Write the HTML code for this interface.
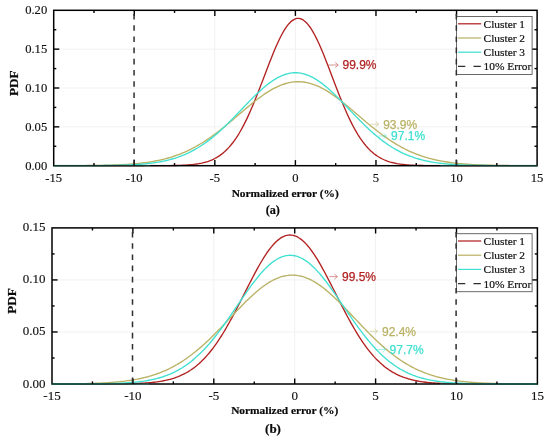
<!DOCTYPE html>
<html><head><meta charset="utf-8"><title>PDF of normalized error</title>
<style>
html,body{margin:0;padding:0;background:#fff;}
svg{display:block;}
.tk{font-family:"Liberation Serif",serif;fill:#111;stroke:#111;stroke-width:0.15px;}
.lg{font-family:"Liberation Serif",serif;font-size:11.4px;fill:#111;stroke:#111;stroke-width:0.2px;}
.lb{font-family:"Liberation Serif",serif;font-size:11.4px;font-weight:bold;fill:#0a0a0a;stroke:#0a0a0a;stroke-width:0.2px;}
.pdf{font-family:"Liberation Serif",serif;font-size:13.2px;font-weight:bold;fill:#0a0a0a;stroke:#0a0a0a;stroke-width:0.2px;}
.an{font-family:"Liberation Sans",sans-serif;font-size:12px;}
</style></head><body>
<svg width="550" height="440" viewBox="0 0 550 440">
<rect width="550" height="440" fill="#fff"/>
<line x1="214.83" y1="10.3" x2="214.83" y2="165.7" stroke="#f1f1f1" stroke-width="1"/>
<line x1="295.40" y1="10.3" x2="295.40" y2="165.7" stroke="#f1f1f1" stroke-width="1"/>
<line x1="375.97" y1="10.3" x2="375.97" y2="165.7" stroke="#f1f1f1" stroke-width="1"/>
<line x1="53.7" y1="126.85" x2="537.1" y2="126.85" stroke="#f1f1f1" stroke-width="1"/>
<line x1="53.7" y1="88.00" x2="537.1" y2="88.00" stroke="#f1f1f1" stroke-width="1"/>
<line x1="53.7" y1="49.15" x2="537.1" y2="49.15" stroke="#f1f1f1" stroke-width="1"/>
<polyline points="53.70,165.70 55.31,165.70 56.92,165.70 58.53,165.70 60.15,165.70 61.76,165.70 63.37,165.70 64.98,165.70 66.59,165.70 68.20,165.70 69.81,165.70 71.42,165.70 73.04,165.70 74.65,165.70 76.26,165.70 77.87,165.70 79.48,165.70 81.09,165.70 82.70,165.70 84.32,165.70 85.93,165.70 87.54,165.70 89.15,165.70 90.76,165.70 92.37,165.70 93.98,165.70 95.59,165.70 97.21,165.70 98.82,165.70 100.43,165.70 102.04,165.70 103.65,165.70 105.26,165.70 106.87,165.70 108.49,165.70 110.10,165.70 111.71,165.70 113.32,165.70 114.93,165.70 116.54,165.70 118.15,165.70 119.76,165.70 121.38,165.70 122.99,165.70 124.60,165.70 126.21,165.70 127.82,165.70 129.43,165.70 131.04,165.70 132.66,165.70 134.27,165.70 135.88,165.70 137.49,165.70 139.10,165.70 140.71,165.70 142.32,165.70 143.93,165.70 145.55,165.69 147.16,165.69 148.77,165.69 150.38,165.69 151.99,165.69 153.60,165.68 155.21,165.68 156.83,165.68 158.44,165.67 160.05,165.66 161.66,165.66 163.27,165.65 164.88,165.63 166.49,165.62 168.10,165.61 169.72,165.59 171.33,165.57 172.94,165.54 174.55,165.51 176.16,165.47 177.77,165.43 179.38,165.38 181.00,165.32 182.61,165.26 184.22,165.18 185.83,165.09 187.44,164.99 189.05,164.87 190.66,164.73 192.27,164.58 193.89,164.40 195.50,164.19 197.11,163.96 198.72,163.70 200.33,163.40 201.94,163.07 203.55,162.69 205.17,162.27 206.78,161.80 208.39,161.27 210.00,160.68 211.61,160.03 213.22,159.30 214.83,158.50 216.44,157.62 218.06,156.65 219.67,155.59 221.28,154.42 222.89,153.15 224.50,151.77 226.11,150.28 227.72,148.66 229.34,146.91 230.95,145.03 232.56,143.02 234.17,140.86 235.78,138.56 237.39,136.11 239.00,133.52 240.61,130.78 242.23,127.89 243.84,124.85 245.45,121.67 247.06,118.35 248.67,114.89 250.28,111.30 251.89,107.59 253.51,103.77 255.12,99.84 256.73,95.83 258.34,91.74 259.95,87.58 261.56,83.38 263.17,79.14 264.78,74.90 266.40,70.66 268.01,66.44 269.62,62.28 271.23,58.18 272.84,54.17 274.45,50.28 276.06,46.52 277.68,42.91 279.29,39.48 280.90,36.24 282.51,33.23 284.12,30.44 285.73,27.91 287.34,25.66 288.95,23.68 290.57,22.00 292.18,20.63 293.79,19.58 295.40,18.85 297.01,18.45 298.62,18.39 300.23,18.65 301.85,19.25 303.46,20.17 305.07,21.42 306.68,22.97 308.29,24.83 309.90,26.98 311.51,29.40 313.12,32.08 314.74,35.01 316.35,38.16 317.96,41.51 319.57,45.05 321.18,48.76 322.79,52.60 324.40,56.57 326.02,60.63 327.63,64.77 329.24,68.97 330.85,73.20 332.46,77.45 334.07,81.69 335.68,85.90 337.29,90.08 338.91,94.20 340.52,98.25 342.13,102.21 343.74,106.08 345.35,109.83 346.96,113.47 348.57,116.98 350.19,120.36 351.80,123.59 353.41,126.69 355.02,129.64 356.63,132.44 358.24,135.09 359.85,137.60 361.46,139.96 363.08,142.17 364.69,144.24 366.30,146.18 367.91,147.97 369.52,149.64 371.13,151.19 372.74,152.62 374.36,153.93 375.97,155.13 377.58,156.24 379.19,157.24 380.80,158.16 382.41,158.99 384.02,159.75 385.63,160.43 387.25,161.04 388.86,161.59 390.47,162.09 392.08,162.53 393.69,162.92 395.30,163.28 396.91,163.59 398.53,163.86 400.14,164.10 401.75,164.32 403.36,164.51 404.97,164.67 406.58,164.82 408.19,164.94 409.80,165.05 411.42,165.15 413.03,165.23 414.64,165.30 416.25,165.36 417.86,165.41 419.47,165.46 421.08,165.49 422.70,165.53 424.31,165.56 425.92,165.58 427.53,165.60 429.14,165.62 430.75,165.63 432.36,165.64 433.97,165.65 435.59,165.66 437.20,165.67 438.81,165.67 440.42,165.68 442.03,165.68 443.64,165.69 445.25,165.69 446.87,165.69 448.48,165.69 450.09,165.69 451.70,165.69 453.31,165.70 454.92,165.70 456.53,165.70 458.14,165.70 459.76,165.70 461.37,165.70 462.98,165.70 464.59,165.70 466.20,165.70 467.81,165.70 469.42,165.70 471.04,165.70 472.65,165.70 474.26,165.70 475.87,165.70 477.48,165.70 479.09,165.70 480.70,165.70 482.31,165.70 483.93,165.70 485.54,165.70 487.15,165.70 488.76,165.70 490.37,165.70 491.98,165.70 493.59,165.70 495.21,165.70 496.82,165.70 498.43,165.70 500.04,165.70 501.65,165.70 503.26,165.70 504.87,165.70 506.48,165.70 508.10,165.70 509.71,165.70 511.32,165.70 512.93,165.70 514.54,165.70 516.15,165.70 517.76,165.70 519.38,165.70 520.99,165.70 522.60,165.70 524.21,165.70 525.82,165.70 527.43,165.70 529.04,165.70 530.65,165.70 532.27,165.70 533.88,165.70 535.49,165.70 537.10,165.70" fill="none" stroke="#b22222" stroke-width="1.35" stroke-linejoin="round"/>
<polyline points="53.70,165.68 55.31,165.68 56.92,165.68 58.53,165.67 60.15,165.67 61.76,165.67 63.37,165.67 64.98,165.66 66.59,165.66 68.20,165.65 69.81,165.65 71.42,165.64 73.04,165.64 74.65,165.63 76.26,165.62 77.87,165.61 79.48,165.60 81.09,165.59 82.70,165.58 84.32,165.57 85.93,165.56 87.54,165.54 89.15,165.53 90.76,165.51 92.37,165.49 93.98,165.47 95.59,165.45 97.21,165.42 98.82,165.40 100.43,165.37 102.04,165.34 103.65,165.30 105.26,165.26 106.87,165.22 108.49,165.18 110.10,165.13 111.71,165.08 113.32,165.03 114.93,164.97 116.54,164.91 118.15,164.84 119.76,164.77 121.38,164.69 122.99,164.60 124.60,164.51 126.21,164.42 127.82,164.31 129.43,164.20 131.04,164.08 132.66,163.95 134.27,163.82 135.88,163.67 137.49,163.52 139.10,163.35 140.71,163.18 142.32,162.99 143.93,162.79 145.55,162.58 147.16,162.36 148.77,162.12 150.38,161.87 151.99,161.60 153.60,161.32 155.21,161.03 156.83,160.71 158.44,160.38 160.05,160.04 161.66,159.67 163.27,159.29 164.88,158.88 166.49,158.46 168.10,158.01 169.72,157.55 171.33,157.06 172.94,156.55 174.55,156.01 176.16,155.46 177.77,154.88 179.38,154.27 181.00,153.64 182.61,152.98 184.22,152.30 185.83,151.59 187.44,150.85 189.05,150.09 190.66,149.30 192.27,148.48 193.89,147.64 195.50,146.77 197.11,145.87 198.72,144.94 200.33,143.99 201.94,143.01 203.55,142.00 205.17,140.96 206.78,139.90 208.39,138.81 210.00,137.70 211.61,136.56 213.22,135.40 214.83,134.22 216.44,133.01 218.06,131.79 219.67,130.54 221.28,129.27 222.89,127.99 224.50,126.68 226.11,125.37 227.72,124.04 229.34,122.69 230.95,121.34 232.56,119.98 234.17,118.61 235.78,117.23 237.39,115.85 239.00,114.47 240.61,113.09 242.23,111.71 243.84,110.34 245.45,108.97 247.06,107.62 248.67,106.27 250.28,104.94 251.89,103.62 253.51,102.32 255.12,101.04 256.73,99.79 258.34,98.56 259.95,97.35 261.56,96.18 263.17,95.03 264.78,93.93 266.40,92.85 268.01,91.82 269.62,90.82 271.23,89.87 272.84,88.96 274.45,88.10 276.06,87.29 277.68,86.53 279.29,85.81 280.90,85.15 282.51,84.55 284.12,84.00 285.73,83.50 287.34,83.07 288.95,82.69 290.57,82.37 292.18,82.12 293.79,81.92 295.40,81.78 297.01,81.71 298.62,81.70 300.23,81.75 301.85,81.86 303.46,82.03 305.07,82.26 306.68,82.56 308.29,82.91 309.90,83.32 311.51,83.79 313.12,84.32 314.74,84.90 316.35,85.54 317.96,86.23 319.57,86.98 321.18,87.77 322.79,88.61 324.40,89.50 326.02,90.44 327.63,91.42 329.24,92.43 330.85,93.49 332.46,94.59 334.07,95.72 335.68,96.88 337.29,98.07 338.91,99.29 340.52,100.54 342.13,101.81 343.74,103.10 345.35,104.41 346.96,105.74 348.57,107.08 350.19,108.43 351.80,109.79 353.41,111.16 355.02,112.54 356.63,113.92 358.24,115.30 359.85,116.68 361.46,118.06 363.08,119.43 364.69,120.80 366.30,122.15 367.91,123.50 369.52,124.84 371.13,126.16 372.74,127.47 374.36,128.76 375.97,130.03 377.58,131.29 379.19,132.53 380.80,133.74 382.41,134.93 384.02,136.10 385.63,137.25 387.25,138.37 388.86,139.47 390.47,140.54 392.08,141.59 393.69,142.61 395.30,143.60 396.91,144.56 398.53,145.50 400.14,146.41 401.75,147.29 403.36,148.15 404.97,148.98 406.58,149.78 408.19,150.55 409.80,151.30 411.42,152.02 413.03,152.71 414.64,153.38 416.25,154.02 417.86,154.64 419.47,155.23 421.08,155.79 422.70,156.34 424.31,156.86 425.92,157.35 427.53,157.83 429.14,158.28 430.75,158.72 432.36,159.13 433.97,159.52 435.59,159.89 437.20,160.25 438.81,160.58 440.42,160.90 442.03,161.21 443.64,161.49 445.25,161.77 446.87,162.02 448.48,162.26 450.09,162.49 451.70,162.71 453.31,162.91 454.92,163.10 456.53,163.28 458.14,163.45 459.76,163.61 461.37,163.76 462.98,163.90 464.59,164.03 466.20,164.15 467.81,164.27 469.42,164.37 471.04,164.47 472.65,164.57 474.26,164.66 475.87,164.74 477.48,164.81 479.09,164.88 480.70,164.95 482.31,165.01 483.93,165.06 485.54,165.11 487.15,165.16 488.76,165.21 490.37,165.25 491.98,165.29 493.59,165.32 495.21,165.35 496.82,165.38 498.43,165.41 500.04,165.44 501.65,165.46 503.26,165.48 504.87,165.50 506.48,165.52 508.10,165.54 509.71,165.55 511.32,165.56 512.93,165.58 514.54,165.59 516.15,165.60 517.76,165.61 519.38,165.62 520.99,165.63 522.60,165.63 524.21,165.64 525.82,165.65 527.43,165.65 529.04,165.66 530.65,165.66 532.27,165.66 533.88,165.67 535.49,165.67 537.10,165.67" fill="none" stroke="#bab265" stroke-width="1.35" stroke-linejoin="round"/>
<polyline points="53.70,165.70 55.31,165.70 56.92,165.70 58.53,165.69 60.15,165.69 61.76,165.69 63.37,165.69 64.98,165.69 66.59,165.69 68.20,165.69 69.81,165.69 71.42,165.68 73.04,165.68 74.65,165.68 76.26,165.68 77.87,165.67 79.48,165.67 81.09,165.67 82.70,165.66 84.32,165.66 85.93,165.65 87.54,165.65 89.15,165.64 90.76,165.63 92.37,165.63 93.98,165.62 95.59,165.61 97.21,165.60 98.82,165.58 100.43,165.57 102.04,165.56 103.65,165.54 105.26,165.52 106.87,165.50 108.49,165.48 110.10,165.46 111.71,165.43 113.32,165.40 114.93,165.37 116.54,165.33 118.15,165.30 119.76,165.25 121.38,165.21 122.99,165.16 124.60,165.10 126.21,165.05 127.82,164.98 129.43,164.91 131.04,164.84 132.66,164.75 134.27,164.66 135.88,164.57 137.49,164.46 139.10,164.35 140.71,164.22 142.32,164.09 143.93,163.95 145.55,163.80 147.16,163.63 148.77,163.45 150.38,163.26 151.99,163.06 153.60,162.84 155.21,162.61 156.83,162.36 158.44,162.09 160.05,161.80 161.66,161.50 163.27,161.18 164.88,160.83 166.49,160.47 168.10,160.08 169.72,159.67 171.33,159.23 172.94,158.77 174.55,158.29 176.16,157.77 177.77,157.23 179.38,156.66 181.00,156.06 182.61,155.43 184.22,154.77 185.83,154.07 187.44,153.35 189.05,152.58 190.66,151.79 192.27,150.96 193.89,150.09 195.50,149.19 197.11,148.25 198.72,147.28 200.33,146.26 201.94,145.21 203.55,144.13 205.17,143.00 206.78,141.84 208.39,140.64 210.00,139.41 211.61,138.14 213.22,136.83 214.83,135.49 216.44,134.12 218.06,132.71 219.67,131.27 221.28,129.80 222.89,128.30 224.50,126.77 226.11,125.22 227.72,123.64 229.34,122.04 230.95,120.43 232.56,118.79 234.17,117.14 235.78,115.47 237.39,113.80 239.00,112.11 240.61,110.42 242.23,108.73 243.84,107.04 245.45,105.36 247.06,103.68 248.67,102.01 250.28,100.36 251.89,98.73 253.51,97.11 255.12,95.52 256.73,93.96 258.34,92.43 259.95,90.93 261.56,89.47 263.17,88.05 264.78,86.68 266.40,85.35 268.01,84.08 269.62,82.86 271.23,81.69 272.84,80.59 274.45,79.55 276.06,78.58 277.68,77.67 279.29,76.84 280.90,76.08 282.51,75.39 284.12,74.78 285.73,74.25 287.34,73.79 288.95,73.42 290.57,73.13 292.18,72.92 293.79,72.79 295.40,72.75 297.01,72.79 298.62,72.92 300.23,73.13 301.85,73.42 303.46,73.79 305.07,74.25 306.68,74.78 308.29,75.39 309.90,76.08 311.51,76.84 313.12,77.67 314.74,78.58 316.35,79.55 317.96,80.59 319.57,81.69 321.18,82.86 322.79,84.08 324.40,85.35 326.02,86.68 327.63,88.05 329.24,89.47 330.85,90.93 332.46,92.43 334.07,93.96 335.68,95.52 337.29,97.11 338.91,98.73 340.52,100.36 342.13,102.01 343.74,103.68 345.35,105.36 346.96,107.04 348.57,108.73 350.19,110.42 351.80,112.11 353.41,113.80 355.02,115.47 356.63,117.14 358.24,118.79 359.85,120.43 361.46,122.04 363.08,123.64 364.69,125.22 366.30,126.77 367.91,128.30 369.52,129.80 371.13,131.27 372.74,132.71 374.36,134.12 375.97,135.49 377.58,136.83 379.19,138.14 380.80,139.41 382.41,140.64 384.02,141.84 385.63,143.00 387.25,144.13 388.86,145.21 390.47,146.26 392.08,147.28 393.69,148.25 395.30,149.19 396.91,150.09 398.53,150.96 400.14,151.79 401.75,152.58 403.36,153.35 404.97,154.07 406.58,154.77 408.19,155.43 409.80,156.06 411.42,156.66 413.03,157.23 414.64,157.77 416.25,158.29 417.86,158.77 419.47,159.23 421.08,159.67 422.70,160.08 424.31,160.47 425.92,160.83 427.53,161.18 429.14,161.50 430.75,161.80 432.36,162.09 433.97,162.36 435.59,162.61 437.20,162.84 438.81,163.06 440.42,163.26 442.03,163.45 443.64,163.63 445.25,163.80 446.87,163.95 448.48,164.09 450.09,164.22 451.70,164.35 453.31,164.46 454.92,164.57 456.53,164.66 458.14,164.75 459.76,164.84 461.37,164.91 462.98,164.98 464.59,165.05 466.20,165.10 467.81,165.16 469.42,165.21 471.04,165.25 472.65,165.30 474.26,165.33 475.87,165.37 477.48,165.40 479.09,165.43 480.70,165.46 482.31,165.48 483.93,165.50 485.54,165.52 487.15,165.54 488.76,165.56 490.37,165.57 491.98,165.58 493.59,165.60 495.21,165.61 496.82,165.62 498.43,165.63 500.04,165.63 501.65,165.64 503.26,165.65 504.87,165.65 506.48,165.66 508.10,165.66 509.71,165.67 511.32,165.67 512.93,165.67 514.54,165.68 516.15,165.68 517.76,165.68 519.38,165.68 520.99,165.69 522.60,165.69 524.21,165.69 525.82,165.69 527.43,165.69 529.04,165.69 530.65,165.69 532.27,165.69 533.88,165.70 535.49,165.70 537.10,165.70" fill="none" stroke="#40e0d0" stroke-width="1.35" stroke-linejoin="round"/>
<rect x="53.7" y="10.3" width="483.40000000000003" height="155.39999999999998" fill="none" stroke="#000" stroke-width="1.5"/>
<line x1="53.70" y1="165.7" x2="150.38" y2="165.7" stroke="#40e0d0" stroke-width="1.6" opacity="0.25"/>
<line x1="440.42" y1="165.7" x2="537.10" y2="165.7" stroke="#40e0d0" stroke-width="1.6" opacity="0.25"/>
<line x1="93.98" y1="165.7" x2="93.98" y2="163.1" stroke="#000" stroke-width="1.4"/>
<line x1="93.98" y1="10.3" x2="93.98" y2="12.9" stroke="#000" stroke-width="1.4"/>
<line x1="134.27" y1="165.7" x2="134.27" y2="160.1" stroke="#000" stroke-width="1.4"/>
<line x1="134.27" y1="10.3" x2="134.27" y2="15.9" stroke="#000" stroke-width="1.4"/>
<line x1="174.55" y1="165.7" x2="174.55" y2="163.1" stroke="#000" stroke-width="1.4"/>
<line x1="174.55" y1="10.3" x2="174.55" y2="12.9" stroke="#000" stroke-width="1.4"/>
<line x1="214.83" y1="165.7" x2="214.83" y2="160.1" stroke="#000" stroke-width="1.4"/>
<line x1="214.83" y1="10.3" x2="214.83" y2="15.9" stroke="#000" stroke-width="1.4"/>
<line x1="255.12" y1="165.7" x2="255.12" y2="163.1" stroke="#000" stroke-width="1.4"/>
<line x1="255.12" y1="10.3" x2="255.12" y2="12.9" stroke="#000" stroke-width="1.4"/>
<line x1="295.40" y1="165.7" x2="295.40" y2="160.1" stroke="#000" stroke-width="1.4"/>
<line x1="295.40" y1="10.3" x2="295.40" y2="15.9" stroke="#000" stroke-width="1.4"/>
<line x1="335.68" y1="165.7" x2="335.68" y2="163.1" stroke="#000" stroke-width="1.4"/>
<line x1="335.68" y1="10.3" x2="335.68" y2="12.9" stroke="#000" stroke-width="1.4"/>
<line x1="375.97" y1="165.7" x2="375.97" y2="160.1" stroke="#000" stroke-width="1.4"/>
<line x1="375.97" y1="10.3" x2="375.97" y2="15.9" stroke="#000" stroke-width="1.4"/>
<line x1="416.25" y1="165.7" x2="416.25" y2="163.1" stroke="#000" stroke-width="1.4"/>
<line x1="416.25" y1="10.3" x2="416.25" y2="12.9" stroke="#000" stroke-width="1.4"/>
<line x1="456.53" y1="165.7" x2="456.53" y2="160.1" stroke="#000" stroke-width="1.4"/>
<line x1="456.53" y1="10.3" x2="456.53" y2="15.9" stroke="#000" stroke-width="1.4"/>
<line x1="496.82" y1="165.7" x2="496.82" y2="163.1" stroke="#000" stroke-width="1.4"/>
<line x1="496.82" y1="10.3" x2="496.82" y2="12.9" stroke="#000" stroke-width="1.4"/>
<line x1="53.7" y1="146.27" x2="56.300000000000004" y2="146.27" stroke="#000" stroke-width="1.4"/>
<line x1="537.1" y1="146.27" x2="534.5" y2="146.27" stroke="#000" stroke-width="1.4"/>
<line x1="53.7" y1="126.85" x2="59.300000000000004" y2="126.85" stroke="#000" stroke-width="1.4"/>
<line x1="537.1" y1="126.85" x2="531.5" y2="126.85" stroke="#000" stroke-width="1.4"/>
<line x1="53.7" y1="107.42" x2="56.300000000000004" y2="107.42" stroke="#000" stroke-width="1.4"/>
<line x1="537.1" y1="107.42" x2="534.5" y2="107.42" stroke="#000" stroke-width="1.4"/>
<line x1="53.7" y1="88.00" x2="59.300000000000004" y2="88.00" stroke="#000" stroke-width="1.4"/>
<line x1="537.1" y1="88.00" x2="531.5" y2="88.00" stroke="#000" stroke-width="1.4"/>
<line x1="53.7" y1="68.58" x2="56.300000000000004" y2="68.58" stroke="#000" stroke-width="1.4"/>
<line x1="537.1" y1="68.58" x2="534.5" y2="68.58" stroke="#000" stroke-width="1.4"/>
<line x1="53.7" y1="49.15" x2="59.300000000000004" y2="49.15" stroke="#000" stroke-width="1.4"/>
<line x1="537.1" y1="49.15" x2="531.5" y2="49.15" stroke="#000" stroke-width="1.4"/>
<line x1="53.7" y1="29.73" x2="56.300000000000004" y2="29.73" stroke="#000" stroke-width="1.4"/>
<line x1="537.1" y1="29.73" x2="534.5" y2="29.73" stroke="#000" stroke-width="1.4"/>
<text x="53.70" y="182.0" text-anchor="middle" class="tk" font-size="12.6">-15</text>
<text x="134.27" y="182.0" text-anchor="middle" class="tk" font-size="12.6">-10</text>
<text x="214.83" y="182.0" text-anchor="middle" class="tk" font-size="12.6">-5</text>
<text x="295.40" y="182.0" text-anchor="middle" class="tk" font-size="12.6">0</text>
<text x="375.97" y="182.0" text-anchor="middle" class="tk" font-size="12.6">5</text>
<text x="456.53" y="182.0" text-anchor="middle" class="tk" font-size="12.6">10</text>
<text x="537.10" y="182.0" text-anchor="middle" class="tk" font-size="12.6">15</text>
<text x="47.2" y="169.50" text-anchor="end" class="tk" font-size="12.6">0.00</text>
<text x="47.2" y="130.65" text-anchor="end" class="tk" font-size="12.6">0.05</text>
<text x="47.2" y="91.80" text-anchor="end" class="tk" font-size="12.6">0.10</text>
<text x="47.2" y="52.95" text-anchor="end" class="tk" font-size="12.6">0.15</text>
<text x="47.2" y="14.10" text-anchor="end" class="tk" font-size="12.6">0.20</text>
<text x="285.2" y="196.8" text-anchor="middle" class="lb">Normalized error (%)</text>
<text x="272.8" y="213.5" text-anchor="middle" class="lb" style="font-size:12.2px">(a)</text>
<text transform="translate(17.5,83.2) rotate(-90)" text-anchor="middle" class="pdf">PDF</text>
<rect x="456.5" y="16.5" width="75.60000000000002" height="58.0" fill="#fff" stroke="#5a5a5a" stroke-width="0.9"/>
<line x1="458" y1="23.80" x2="481.2" y2="23.80" stroke="#b22222" stroke-width="1.25"/>
<text x="483.6" y="27.70" class="lg">Cluster 1</text>
<line x1="458" y1="38.00" x2="481.2" y2="38.00" stroke="#bab265" stroke-width="1.25"/>
<text x="483.6" y="41.90" class="lg">Cluster 2</text>
<line x1="458" y1="52.20" x2="481.2" y2="52.20" stroke="#40e0d0" stroke-width="1.25"/>
<text x="483.6" y="56.10" class="lg">Cluster 3</text>
<line x1="458" y1="66.40" x2="481.2" y2="66.40" stroke="#2e2e2e" stroke-width="1.25" stroke-dasharray="7.3,8.2"/>
<text x="483.6" y="70.30" class="lg">10% Error</text>
<line x1="134.07" y1="14.0" x2="134.07" y2="165.7" stroke="#2e2e2e" stroke-width="1.5" stroke-dasharray="5.6,5.6"/>
<line x1="456.33" y1="14.0" x2="456.33" y2="165.7" stroke="#2e2e2e" stroke-width="1.5" stroke-dasharray="5.6,5.6"/>
<g stroke="#b22222" stroke-width="0.8" fill="none" opacity="0.6"><line x1="328.5" y1="65.0" x2="338.2" y2="65.0"/><polyline points="335.2,62.5 338.2,65.0 335.2,67.5"/></g>
<text x="342.5" y="69.3" class="an" fill="#b22222" stroke="#b22222" stroke-width="0.25">99.9%</text>
<g stroke="#bab265" stroke-width="0.8" fill="none" opacity="0.6"><line x1="371.2" y1="124.2" x2="378.9" y2="124.2"/><polyline points="375.9,121.7 378.9,124.2 375.9,126.7"/></g>
<text x="383.2" y="128.5" class="an" fill="#bab265" stroke="#bab265" stroke-width="0.25">93.9%</text>
<g stroke="#40e0d0" stroke-width="0.8" fill="none" opacity="0.6"><line x1="378.4" y1="136.0" x2="386.5" y2="136.0"/><polyline points="383.5,133.5 386.5,136.0 383.5,138.5"/></g>
<text x="391.1" y="140.3" class="an" fill="#40e0d0" stroke="#40e0d0" stroke-width="0.25">97.1%</text>
<line x1="213.80" y1="227.9" x2="213.80" y2="384.0" stroke="#f1f1f1" stroke-width="1"/>
<line x1="294.70" y1="227.9" x2="294.70" y2="384.0" stroke="#f1f1f1" stroke-width="1"/>
<line x1="375.60" y1="227.9" x2="375.60" y2="384.0" stroke="#f1f1f1" stroke-width="1"/>
<line x1="52.0" y1="331.97" x2="537.4" y2="331.97" stroke="#f1f1f1" stroke-width="1"/>
<line x1="52.0" y1="279.93" x2="537.4" y2="279.93" stroke="#f1f1f1" stroke-width="1"/>
<polyline points="52.00,384.00 53.62,384.00 55.24,384.00 56.85,384.00 58.47,384.00 60.09,384.00 61.71,384.00 63.33,384.00 64.94,384.00 66.56,384.00 68.18,384.00 69.80,384.00 71.42,384.00 73.03,384.00 74.65,384.00 76.27,384.00 77.89,384.00 79.51,384.00 81.12,384.00 82.74,384.00 84.36,383.99 85.98,383.99 87.60,383.99 89.21,383.99 90.83,383.99 92.45,383.99 94.07,383.99 95.69,383.98 97.30,383.98 98.92,383.98 100.54,383.97 102.16,383.97 103.78,383.96 105.39,383.96 107.01,383.95 108.63,383.94 110.25,383.94 111.87,383.93 113.48,383.92 115.10,383.90 116.72,383.89 118.34,383.87 119.96,383.86 121.57,383.84 123.19,383.81 124.81,383.79 126.43,383.76 128.05,383.73 129.66,383.69 131.28,383.65 132.90,383.60 134.52,383.55 136.14,383.49 137.75,383.43 139.37,383.36 140.99,383.28 142.61,383.19 144.23,383.10 145.84,382.99 147.46,382.87 149.08,382.74 150.70,382.59 152.32,382.43 153.93,382.25 155.55,382.06 157.17,381.85 158.79,381.62 160.41,381.36 162.02,381.08 163.64,380.78 165.26,380.45 166.88,380.09 168.50,379.70 170.11,379.28 171.73,378.82 173.35,378.33 174.97,377.79 176.59,377.22 178.20,376.60 179.82,375.93 181.44,375.21 183.06,374.45 184.68,373.62 186.29,372.75 187.91,371.81 189.53,370.81 191.15,369.75 192.77,368.62 194.38,367.42 196.00,366.16 197.62,364.81 199.24,363.40 200.86,361.91 202.47,360.34 204.09,358.69 205.71,356.96 207.33,355.14 208.95,353.25 210.56,351.27 212.18,349.21 213.80,347.06 215.42,344.83 217.04,342.52 218.65,340.13 220.27,337.65 221.89,335.10 223.51,332.48 225.13,329.78 226.74,327.01 228.36,324.18 229.98,321.28 231.60,318.32 233.22,315.32 234.83,312.26 236.45,309.17 238.07,306.04 239.69,302.88 241.31,299.69 242.92,296.50 244.54,293.29 246.16,290.09 247.78,286.89 249.40,283.72 251.01,280.57 252.63,277.45 254.25,274.38 255.87,271.36 257.49,268.41 259.10,265.52 260.72,262.72 262.34,260.00 263.96,257.39 265.58,254.88 267.19,252.49 268.81,250.22 270.43,248.08 272.05,246.09 273.67,244.23 275.28,242.54 276.90,241.00 278.52,239.63 280.14,238.42 281.76,237.39 283.37,236.54 284.99,235.87 286.61,235.39 288.23,235.09 289.85,234.98 291.46,235.05 293.08,235.31 294.70,235.76 296.32,236.39 297.94,237.21 299.55,238.20 301.17,239.37 302.79,240.71 304.41,242.22 306.03,243.88 307.64,245.70 309.26,247.67 310.88,249.78 312.50,252.02 314.12,254.39 315.73,256.88 317.35,259.47 318.97,262.17 320.59,264.95 322.21,267.82 323.82,270.77 325.44,273.77 327.06,276.83 328.68,279.94 330.30,283.09 331.91,286.26 333.53,289.45 335.15,292.65 336.77,295.86 338.39,299.06 340.00,302.24 341.62,305.41 343.24,308.54 344.86,311.65 346.48,314.71 348.09,317.73 349.71,320.69 351.33,323.60 352.95,326.45 354.57,329.23 356.18,331.94 357.80,334.58 359.42,337.15 361.04,339.64 362.66,342.05 364.27,344.37 365.89,346.62 367.51,348.78 369.13,350.86 370.75,352.86 372.36,354.77 373.98,356.60 375.60,358.35 377.22,360.01 378.84,361.60 380.45,363.11 382.07,364.54 383.69,365.89 385.31,367.17 386.93,368.39 388.54,369.53 390.16,370.60 391.78,371.61 393.40,372.56 395.02,373.45 396.63,374.29 398.25,375.06 399.87,375.79 401.49,376.47 403.11,377.10 404.72,377.68 406.34,378.22 407.96,378.73 409.58,379.19 411.20,379.62 412.81,380.02 414.43,380.38 416.05,380.72 417.67,381.03 419.29,381.31 420.90,381.57 422.52,381.80 424.14,382.02 425.76,382.22 427.38,382.40 428.99,382.56 430.61,382.71 432.23,382.84 433.85,382.96 435.47,383.07 437.08,383.17 438.70,383.26 440.32,383.34 441.94,383.42 443.56,383.48 445.17,383.54 446.79,383.59 448.41,383.64 450.03,383.68 451.65,383.72 453.26,383.75 454.88,383.78 456.50,383.81 458.12,383.83 459.74,383.85 461.35,383.87 462.97,383.89 464.59,383.90 466.21,383.91 467.83,383.92 469.44,383.93 471.06,383.94 472.68,383.95 474.30,383.96 475.92,383.96 477.53,383.97 479.15,383.97 480.77,383.98 482.39,383.98 484.01,383.98 485.62,383.98 487.24,383.99 488.86,383.99 490.48,383.99 492.10,383.99 493.71,383.99 495.33,383.99 496.95,383.99 498.57,384.00 500.19,384.00 501.80,384.00 503.42,384.00 505.04,384.00 506.66,384.00 508.28,384.00 509.89,384.00 511.51,384.00 513.13,384.00 514.75,384.00 516.37,384.00 517.98,384.00 519.60,384.00 521.22,384.00 522.84,384.00 524.46,384.00 526.07,384.00 527.69,384.00 529.31,384.00 530.93,384.00 532.55,384.00 534.16,384.00 535.78,384.00 537.40,384.00" fill="none" stroke="#b22222" stroke-width="1.35" stroke-linejoin="round"/>
<polyline points="52.00,383.94 53.62,383.93 55.24,383.92 56.85,383.92 58.47,383.91 60.09,383.90 61.71,383.89 63.33,383.88 64.94,383.87 66.56,383.85 68.18,383.84 69.80,383.82 71.42,383.80 73.03,383.78 74.65,383.76 76.27,383.74 77.89,383.72 79.51,383.69 81.12,383.66 82.74,383.63 84.36,383.60 85.98,383.56 87.60,383.52 89.21,383.48 90.83,383.43 92.45,383.38 94.07,383.33 95.69,383.27 97.30,383.21 98.92,383.14 100.54,383.07 102.16,382.99 103.78,382.91 105.39,382.82 107.01,382.72 108.63,382.62 110.25,382.51 111.87,382.39 113.48,382.27 115.10,382.13 116.72,381.99 118.34,381.84 119.96,381.67 121.57,381.50 123.19,381.32 124.81,381.12 126.43,380.91 128.05,380.69 129.66,380.46 131.28,380.21 132.90,379.94 134.52,379.67 136.14,379.37 137.75,379.06 139.37,378.73 140.99,378.38 142.61,378.02 144.23,377.63 145.84,377.23 147.46,376.80 149.08,376.35 150.70,375.88 152.32,375.39 153.93,374.87 155.55,374.33 157.17,373.76 158.79,373.17 160.41,372.55 162.02,371.91 163.64,371.23 165.26,370.53 166.88,369.80 168.50,369.04 170.11,368.25 171.73,367.42 173.35,366.57 174.97,365.69 176.59,364.77 178.20,363.82 179.82,362.84 181.44,361.83 183.06,360.78 184.68,359.70 186.29,358.59 187.91,357.44 189.53,356.26 191.15,355.05 192.77,353.81 194.38,352.54 196.00,351.23 197.62,349.89 199.24,348.52 200.86,347.12 202.47,345.70 204.09,344.24 205.71,342.76 207.33,341.25 208.95,339.71 210.56,338.16 212.18,336.57 213.80,334.97 215.42,333.35 217.04,331.71 218.65,330.05 220.27,328.38 221.89,326.70 223.51,325.00 225.13,323.30 226.74,321.58 228.36,319.87 229.98,318.15 231.60,316.43 233.22,314.71 234.83,313.00 236.45,311.30 238.07,309.60 239.69,307.92 241.31,306.25 242.92,304.59 244.54,302.96 246.16,301.35 247.78,299.77 249.40,298.21 251.01,296.69 252.63,295.19 254.25,293.74 255.87,292.32 257.49,290.94 259.10,289.60 260.72,288.31 262.34,287.07 263.96,285.88 265.58,284.75 267.19,283.66 268.81,282.64 270.43,281.67 272.05,280.76 273.67,279.92 275.28,279.14 276.90,278.43 278.52,277.78 280.14,277.20 281.76,276.69 283.37,276.26 284.99,275.89 286.61,275.60 288.23,275.38 289.85,275.23 291.46,275.16 293.08,275.16 294.70,275.23 296.32,275.38 297.94,275.60 299.55,275.89 301.17,276.26 302.79,276.69 304.41,277.20 306.03,277.78 307.64,278.43 309.26,279.14 310.88,279.92 312.50,280.76 314.12,281.67 315.73,282.64 317.35,283.66 318.97,284.75 320.59,285.88 322.21,287.07 323.82,288.31 325.44,289.60 327.06,290.94 328.68,292.32 330.30,293.74 331.91,295.19 333.53,296.69 335.15,298.21 336.77,299.77 338.39,301.35 340.00,302.96 341.62,304.59 343.24,306.25 344.86,307.92 346.48,309.60 348.09,311.30 349.71,313.00 351.33,314.71 352.95,316.43 354.57,318.15 356.18,319.87 357.80,321.58 359.42,323.30 361.04,325.00 362.66,326.70 364.27,328.38 365.89,330.05 367.51,331.71 369.13,333.35 370.75,334.97 372.36,336.57 373.98,338.16 375.60,339.71 377.22,341.25 378.84,342.76 380.45,344.24 382.07,345.70 383.69,347.12 385.31,348.52 386.93,349.89 388.54,351.23 390.16,352.54 391.78,353.81 393.40,355.05 395.02,356.26 396.63,357.44 398.25,358.59 399.87,359.70 401.49,360.78 403.11,361.83 404.72,362.84 406.34,363.82 407.96,364.77 409.58,365.69 411.20,366.57 412.81,367.42 414.43,368.25 416.05,369.04 417.67,369.80 419.29,370.53 420.90,371.23 422.52,371.91 424.14,372.55 425.76,373.17 427.38,373.76 428.99,374.33 430.61,374.87 432.23,375.39 433.85,375.88 435.47,376.35 437.08,376.80 438.70,377.23 440.32,377.63 441.94,378.02 443.56,378.38 445.17,378.73 446.79,379.06 448.41,379.37 450.03,379.67 451.65,379.94 453.26,380.21 454.88,380.46 456.50,380.69 458.12,380.91 459.74,381.12 461.35,381.32 462.97,381.50 464.59,381.67 466.21,381.84 467.83,381.99 469.44,382.13 471.06,382.27 472.68,382.39 474.30,382.51 475.92,382.62 477.53,382.72 479.15,382.82 480.77,382.91 482.39,382.99 484.01,383.07 485.62,383.14 487.24,383.21 488.86,383.27 490.48,383.33 492.10,383.38 493.71,383.43 495.33,383.48 496.95,383.52 498.57,383.56 500.19,383.60 501.80,383.63 503.42,383.66 505.04,383.69 506.66,383.72 508.28,383.74 509.89,383.76 511.51,383.78 513.13,383.80 514.75,383.82 516.37,383.84 517.98,383.85 519.60,383.87 521.22,383.88 522.84,383.89 524.46,383.90 526.07,383.91 527.69,383.92 529.31,383.92 530.93,383.93 532.55,383.94 534.16,383.94 535.78,383.95 537.40,383.95" fill="none" stroke="#bab265" stroke-width="1.35" stroke-linejoin="round"/>
<polyline points="52.00,383.99 53.62,383.99 55.24,383.99 56.85,383.99 58.47,383.99 60.09,383.99 61.71,383.99 63.33,383.99 64.94,383.98 66.56,383.98 68.18,383.98 69.80,383.98 71.42,383.97 73.03,383.97 74.65,383.97 76.27,383.96 77.89,383.96 79.51,383.95 81.12,383.94 82.74,383.94 84.36,383.93 85.98,383.92 87.60,383.91 89.21,383.90 90.83,383.89 92.45,383.88 94.07,383.86 95.69,383.84 97.30,383.83 98.92,383.81 100.54,383.78 102.16,383.76 103.78,383.73 105.39,383.70 107.01,383.67 108.63,383.63 110.25,383.59 111.87,383.54 113.48,383.50 115.10,383.44 116.72,383.38 118.34,383.32 119.96,383.25 121.57,383.17 123.19,383.09 124.81,383.00 126.43,382.90 128.05,382.79 129.66,382.67 131.28,382.54 132.90,382.41 134.52,382.26 136.14,382.09 137.75,381.92 139.37,381.73 140.99,381.52 142.61,381.30 144.23,381.07 145.84,380.81 147.46,380.54 149.08,380.24 150.70,379.93 152.32,379.59 153.93,379.23 155.55,378.84 157.17,378.43 158.79,377.99 160.41,377.52 162.02,377.02 163.64,376.49 165.26,375.93 166.88,375.34 168.50,374.70 170.11,374.04 171.73,373.33 173.35,372.58 174.97,371.80 176.59,370.97 178.20,370.10 179.82,369.18 181.44,368.22 183.06,367.21 184.68,366.15 186.29,365.04 187.91,363.89 189.53,362.68 191.15,361.42 192.77,360.11 194.38,358.75 196.00,357.33 197.62,355.86 199.24,354.34 200.86,352.76 202.47,351.13 204.09,349.45 205.71,347.72 207.33,345.93 208.95,344.09 210.56,342.21 212.18,340.27 213.80,338.29 215.42,336.26 217.04,334.19 218.65,332.08 220.27,329.92 221.89,327.74 223.51,325.51 225.13,323.26 226.74,320.97 228.36,318.66 229.98,316.33 231.60,313.99 233.22,311.62 234.83,309.25 236.45,306.87 238.07,304.49 239.69,302.12 241.31,299.75 242.92,297.39 244.54,295.05 246.16,292.72 247.78,290.43 249.40,288.17 251.01,285.94 252.63,283.76 254.25,281.62 255.87,279.54 257.49,277.51 259.10,275.54 260.72,273.64 262.34,271.81 263.96,270.05 265.58,268.38 267.19,266.79 268.81,265.28 270.43,263.87 272.05,262.56 273.67,261.35 275.28,260.24 276.90,259.23 278.52,258.33 280.14,257.55 281.76,256.88 283.37,256.32 284.99,255.88 286.61,255.56 288.23,255.36 289.85,255.27 291.46,255.31 293.08,255.46 294.70,255.74 296.32,256.13 297.94,256.64 299.55,257.27 301.17,258.01 302.79,258.86 304.41,259.82 306.03,260.89 307.64,262.06 309.26,263.34 310.88,264.71 312.50,266.17 314.12,267.73 315.73,269.37 317.35,271.09 318.97,272.90 320.59,274.77 322.21,276.71 323.82,278.72 325.44,280.78 327.06,282.90 328.68,285.06 330.30,287.27 331.91,289.52 333.53,291.80 335.15,294.11 336.77,296.45 338.39,298.80 340.00,301.17 341.62,303.54 343.24,305.92 344.86,308.30 346.48,310.68 348.09,313.04 349.71,315.40 351.33,317.73 352.95,320.05 354.57,322.35 356.18,324.61 357.80,326.85 359.42,329.05 361.04,331.22 362.66,333.35 364.27,335.44 365.89,337.48 367.51,339.48 369.13,341.44 370.75,343.35 372.36,345.20 373.98,347.01 375.60,348.76 377.22,350.47 378.84,352.12 380.45,353.72 382.07,355.26 383.69,356.75 385.31,358.19 386.93,359.57 388.54,360.90 390.16,362.18 391.78,363.41 393.40,364.59 395.02,365.71 396.63,366.79 398.25,367.82 399.87,368.80 401.49,369.73 403.11,370.62 404.72,371.47 406.34,372.27 407.96,373.04 409.58,373.76 411.20,374.44 412.81,375.09 414.43,375.70 416.05,376.27 417.67,376.82 419.29,377.33 420.90,377.81 422.52,378.26 424.14,378.68 425.76,379.08 427.38,379.45 428.99,379.79 430.61,380.12 432.23,380.42 433.85,380.70 435.47,380.97 437.08,381.21 438.70,381.44 440.32,381.65 441.94,381.84 443.56,382.02 445.17,382.19 446.79,382.35 448.41,382.49 450.03,382.62 451.65,382.74 453.26,382.85 454.88,382.96 456.50,383.05 458.12,383.14 459.74,383.22 461.35,383.29 462.97,383.36 464.59,383.42 466.21,383.47 467.83,383.53 469.44,383.57 471.06,383.61 472.68,383.65 474.30,383.69 475.92,383.72 477.53,383.75 479.15,383.77 480.77,383.80 482.39,383.82 484.01,383.84 485.62,383.85 487.24,383.87 488.86,383.88 490.48,383.90 492.10,383.91 493.71,383.92 495.33,383.93 496.95,383.93 498.57,383.94 500.19,383.95 501.80,383.95 503.42,383.96 505.04,383.96 506.66,383.97 508.28,383.97 509.89,383.98 511.51,383.98 513.13,383.98 514.75,383.98 516.37,383.99 517.98,383.99 519.60,383.99 521.22,383.99 522.84,383.99 524.46,383.99 526.07,383.99 527.69,383.99 529.31,383.99 530.93,384.00 532.55,384.00 534.16,384.00 535.78,384.00 537.40,384.00" fill="none" stroke="#40e0d0" stroke-width="1.35" stroke-linejoin="round"/>
<rect x="52.0" y="227.9" width="485.4" height="156.1" fill="none" stroke="#000" stroke-width="1.5"/>
<line x1="52.00" y1="384.0" x2="149.08" y2="384.0" stroke="#40e0d0" stroke-width="1.6" opacity="0.25"/>
<line x1="440.32" y1="384.0" x2="537.40" y2="384.0" stroke="#40e0d0" stroke-width="1.6" opacity="0.25"/>
<line x1="92.45" y1="384.0" x2="92.45" y2="381.4" stroke="#000" stroke-width="1.4"/>
<line x1="92.45" y1="227.9" x2="92.45" y2="230.5" stroke="#000" stroke-width="1.4"/>
<line x1="132.90" y1="384.0" x2="132.90" y2="378.4" stroke="#000" stroke-width="1.4"/>
<line x1="132.90" y1="227.9" x2="132.90" y2="233.5" stroke="#000" stroke-width="1.4"/>
<line x1="173.35" y1="384.0" x2="173.35" y2="381.4" stroke="#000" stroke-width="1.4"/>
<line x1="173.35" y1="227.9" x2="173.35" y2="230.5" stroke="#000" stroke-width="1.4"/>
<line x1="213.80" y1="384.0" x2="213.80" y2="378.4" stroke="#000" stroke-width="1.4"/>
<line x1="213.80" y1="227.9" x2="213.80" y2="233.5" stroke="#000" stroke-width="1.4"/>
<line x1="254.25" y1="384.0" x2="254.25" y2="381.4" stroke="#000" stroke-width="1.4"/>
<line x1="254.25" y1="227.9" x2="254.25" y2="230.5" stroke="#000" stroke-width="1.4"/>
<line x1="294.70" y1="384.0" x2="294.70" y2="378.4" stroke="#000" stroke-width="1.4"/>
<line x1="294.70" y1="227.9" x2="294.70" y2="233.5" stroke="#000" stroke-width="1.4"/>
<line x1="335.15" y1="384.0" x2="335.15" y2="381.4" stroke="#000" stroke-width="1.4"/>
<line x1="335.15" y1="227.9" x2="335.15" y2="230.5" stroke="#000" stroke-width="1.4"/>
<line x1="375.60" y1="384.0" x2="375.60" y2="378.4" stroke="#000" stroke-width="1.4"/>
<line x1="375.60" y1="227.9" x2="375.60" y2="233.5" stroke="#000" stroke-width="1.4"/>
<line x1="416.05" y1="384.0" x2="416.05" y2="381.4" stroke="#000" stroke-width="1.4"/>
<line x1="416.05" y1="227.9" x2="416.05" y2="230.5" stroke="#000" stroke-width="1.4"/>
<line x1="456.50" y1="384.0" x2="456.50" y2="378.4" stroke="#000" stroke-width="1.4"/>
<line x1="456.50" y1="227.9" x2="456.50" y2="233.5" stroke="#000" stroke-width="1.4"/>
<line x1="496.95" y1="384.0" x2="496.95" y2="381.4" stroke="#000" stroke-width="1.4"/>
<line x1="496.95" y1="227.9" x2="496.95" y2="230.5" stroke="#000" stroke-width="1.4"/>
<line x1="52.0" y1="357.98" x2="54.6" y2="357.98" stroke="#000" stroke-width="1.4"/>
<line x1="537.4" y1="357.98" x2="534.8" y2="357.98" stroke="#000" stroke-width="1.4"/>
<line x1="52.0" y1="331.97" x2="57.6" y2="331.97" stroke="#000" stroke-width="1.4"/>
<line x1="537.4" y1="331.97" x2="531.8" y2="331.97" stroke="#000" stroke-width="1.4"/>
<line x1="52.0" y1="305.95" x2="54.6" y2="305.95" stroke="#000" stroke-width="1.4"/>
<line x1="537.4" y1="305.95" x2="534.8" y2="305.95" stroke="#000" stroke-width="1.4"/>
<line x1="52.0" y1="279.93" x2="57.6" y2="279.93" stroke="#000" stroke-width="1.4"/>
<line x1="537.4" y1="279.93" x2="531.8" y2="279.93" stroke="#000" stroke-width="1.4"/>
<line x1="52.0" y1="253.92" x2="54.6" y2="253.92" stroke="#000" stroke-width="1.4"/>
<line x1="537.4" y1="253.92" x2="534.8" y2="253.92" stroke="#000" stroke-width="1.4"/>
<text x="52.00" y="400.3" text-anchor="middle" class="tk" font-size="13.0">-15</text>
<text x="132.90" y="400.3" text-anchor="middle" class="tk" font-size="13.0">-10</text>
<text x="213.80" y="400.3" text-anchor="middle" class="tk" font-size="13.0">-5</text>
<text x="294.70" y="400.3" text-anchor="middle" class="tk" font-size="13.0">0</text>
<text x="375.60" y="400.3" text-anchor="middle" class="tk" font-size="13.0">5</text>
<text x="456.50" y="400.3" text-anchor="middle" class="tk" font-size="13.0">10</text>
<text x="537.40" y="400.3" text-anchor="middle" class="tk" font-size="13.0">15</text>
<text x="45.5" y="387.50" text-anchor="end" class="tk" font-size="13.0">0.00</text>
<text x="45.5" y="335.47" text-anchor="end" class="tk" font-size="13.0">0.05</text>
<text x="45.5" y="283.43" text-anchor="end" class="tk" font-size="13.0">0.10</text>
<text x="45.5" y="231.40" text-anchor="end" class="tk" font-size="13.0">0.15</text>
<text x="284.7" y="414.2" text-anchor="middle" class="lb">Normalized error (%)</text>
<text x="273.0" y="432.9" text-anchor="middle" class="lb" style="font-size:13.0px">(b)</text>
<text transform="translate(16.2,301.0) rotate(-90)" text-anchor="middle" class="pdf">PDF</text>
<rect x="456.5" y="233.7" width="75.60000000000002" height="58.0" fill="#fff" stroke="#5a5a5a" stroke-width="0.9"/>
<line x1="458" y1="241.00" x2="481.2" y2="241.00" stroke="#b22222" stroke-width="1.25"/>
<text x="483.6" y="244.90" class="lg">Cluster 1</text>
<line x1="458" y1="255.20" x2="481.2" y2="255.20" stroke="#bab265" stroke-width="1.25"/>
<text x="483.6" y="259.10" class="lg">Cluster 2</text>
<line x1="458" y1="269.40" x2="481.2" y2="269.40" stroke="#40e0d0" stroke-width="1.25"/>
<text x="483.6" y="273.30" class="lg">Cluster 3</text>
<line x1="458" y1="283.60" x2="481.2" y2="283.60" stroke="#2e2e2e" stroke-width="1.25" stroke-dasharray="7.3,8.2"/>
<text x="483.6" y="287.50" class="lg">10% Error</text>
<line x1="132.50" y1="232.0" x2="132.50" y2="384.0" stroke="#2e2e2e" stroke-width="1.5" stroke-dasharray="5.6,5.6"/>
<line x1="456.10" y1="232.0" x2="456.10" y2="384.0" stroke="#2e2e2e" stroke-width="1.5" stroke-dasharray="5.6,5.6"/>
<g stroke="#b22222" stroke-width="0.8" fill="none" opacity="0.6"><line x1="329.3" y1="276.6" x2="337.4" y2="276.6"/><polyline points="334.4,274.1 337.4,276.6 334.4,279.1"/></g>
<text x="342.0" y="280.90000000000003" class="an" fill="#b22222" stroke="#b22222" stroke-width="0.25">99.5%</text>
<g stroke="#bab265" stroke-width="0.8" fill="none" opacity="0.6"><line x1="370.0" y1="331.3" x2="377.6" y2="331.3"/><polyline points="374.6,328.8 377.6,331.3 374.6,333.8"/></g>
<text x="382.0" y="335.6" class="an" fill="#bab265" stroke="#bab265" stroke-width="0.25">92.4%</text>
<g stroke="#40e0d0" stroke-width="0.8" fill="none" opacity="0.6"><line x1="377.6" y1="349.5" x2="385.8" y2="349.5"/><polyline points="382.8,347.0 385.8,349.5 382.8,352.0"/></g>
<text x="389.6" y="353.8" class="an" fill="#40e0d0" stroke="#40e0d0" stroke-width="0.25">97.7%</text>
</svg>
</body></html>
